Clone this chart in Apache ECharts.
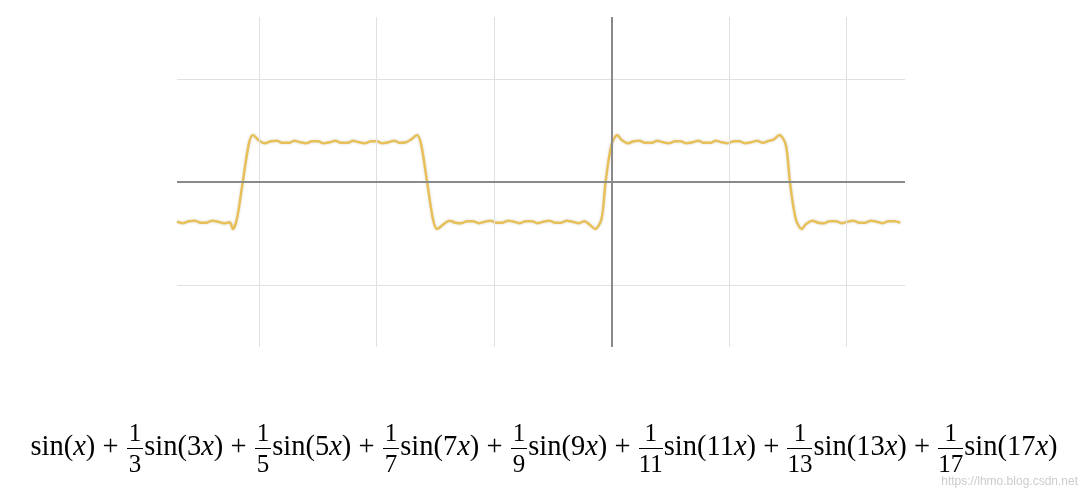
<!DOCTYPE html>
<html><head><meta charset="utf-8">
<script src="https://cdn.jsdelivr.net/npm/echarts@6/dist/echarts.min.js"></script>
<style>
body{margin:0;background:#fff;}
#c{width:1088px;height:498px;}
#f{position:absolute;left:0;top:418px;width:1088px;text-align:center;font-family:"Liberation Serif",serif;font-size:28.5px;color:#000;white-space:nowrap;}
.fr{display:inline-block;vertical-align:middle;text-align:center;margin:0 1px;line-height:1.2;font-size:25px;}
.fr span{display:block;}
.fr .n{border-bottom:1px solid #000;padding:0 2px;}
i{font-style:italic;}
#wm{position:absolute;right:10px;top:474px;font-family:Arial,sans-serif;font-size:12px;color:#ccc;}
</style></head><body>
<div id="c"></div>
<div id="f">sin(<i>x</i>) + <span class="fr"><span class="n">1</span><span>3</span></span>sin(3<i>x</i>) + <span class="fr"><span class="n">1</span><span>5</span></span>sin(5<i>x</i>) + <span class="fr"><span class="n">1</span><span>7</span></span>sin(7<i>x</i>) + <span class="fr"><span class="n">1</span><span>9</span></span>sin(9<i>x</i>) + <span class="fr"><span class="n">1</span><span>11</span></span>sin(11<i>x</i>) + <span class="fr"><span class="n">1</span><span>13</span></span>sin(13<i>x</i>) + <span class="fr"><span class="n">1</span><span>17</span></span>sin(17<i>x</i>)</div>
<div id="wm">https://lhmo.blog.csdn.net</div>
<script>
const xGrid=[-6,-4,-2,2,4];
const yGrid=[-2,2];
const xs=[-7.4,-7.3,-7.2,-7.1,-7.0,-6.9,-6.8,-6.7,-6.6,-6.5,-6.45,-6.38,-6.28,-6.18,-6.11,
-6.0,-5.9,-5.8,-5.7,-5.6,-5.5,-5.4,-5.3,-5.2,-5.1,-5.0,-4.9,-4.8,-4.7,-4.6,-4.5,-4.4,-4.3,-4.2,-4.1,-4.0,-3.9,-3.8,-3.7,-3.6,-3.5,-3.42,-3.31,-3.24,-3.14,-3.04,-2.97,
-2.86,-2.76,-2.66,-2.56,-2.46,-2.36,-2.26,-2.16,-2.06,-1.96,-1.86,-1.76,-1.66,-1.56,-1.46,-1.36,-1.26,-1.16,-1.06,-0.96,-0.86,-0.76,-0.66,-0.56,-0.46,-0.38,-0.28,-0.17,-0.1,0,0.1,0.17,
0.28,0.38,0.48,0.58,0.68,0.78,0.88,0.98,1.08,1.18,1.28,1.38,1.48,1.58,1.68,1.78,1.88,1.98,2.08,2.18,2.28,2.38,2.48,2.58,2.68,2.76,2.86,2.97,3.04,3.14,3.24,3.31,
3.42,3.52,3.62,3.72,3.82,3.92,4.02,4.12,4.22,4.32,4.42,4.52,4.62,4.72,4.82,4.92,5.0];
const ys=[-0.77,-0.80,-0.76,-0.75,-0.79,-0.79,-0.75,-0.77,-0.80,-0.78,-0.91,-0.72,0,0.72,0.91,
0.80,0.75,0.79,0.80,0.76,0.76,0.80,0.77,0.75,0.79,0.79,0.75,0.77,0.80,0.76,0.76,0.80,0.77,0.75,0.79,0.79,0.75,0.77,0.80,0.76,0.77,0.82,0.91,0.72,0,-0.72,-0.91,
-0.82,-0.75,-0.79,-0.80,-0.76,-0.76,-0.80,-0.77,-0.75,-0.79,-0.79,-0.75,-0.77,-0.80,-0.76,-0.76,-0.80,-0.77,-0.75,-0.79,-0.79,-0.75,-0.77,-0.80,-0.76,-0.82,-0.91,-0.72,0,0.72,0.91,
0.82,0.75,0.79,0.80,0.76,0.76,0.80,0.77,0.75,0.79,0.79,0.75,0.77,0.80,0.76,0.76,0.80,0.77,0.75,0.79,0.79,0.75,0.77,0.80,0.76,0.80,0.82,0.91,0.72,0,-0.72,-0.91,
-0.82,-0.75,-0.79,-0.80,-0.76,-0.76,-0.80,-0.77,-0.75,-0.79,-0.79,-0.75,-0.77,-0.80,-0.76,-0.76,-0.79];
const data=xs.map((x,i)=>[x,ys[i]]);
const c=echarts.init(document.getElementById('c'));
const gl={color:'#e0e0e0',width:1,type:'solid'};
c.setOption({
 animation:false,
 grid:{left:177,right:183,top:17,bottom:151},
 xAxis:{type:'value',min:-7.4,max:5.0,show:false},
 yAxis:{type:'value',min:-3.2,max:3.2,show:false},
 series:[
 {type:'line',data:[],silent:true,markLine:{symbol:'none',label:{show:false},silent:true,lineStyle:gl,
   data:xGrid.map(v=>({xAxis:v})).concat(yGrid.map(v=>({yAxis:v})))}},
 {type:'line',data:[],silent:true,markLine:{symbol:'none',label:{show:false},silent:true,lineStyle:{color:'#8a8a8a',width:2,type:'solid'},
   data:[{xAxis:0},{yAxis:0}]}},
 {type:'line',data:data,smooth:0.3,showSymbol:false,lineStyle:{color:'#e8c05a',width:2.5,shadowColor:'rgba(0,0,0,0.15)',shadowBlur:3}}
 ]
});
</script></body></html>
